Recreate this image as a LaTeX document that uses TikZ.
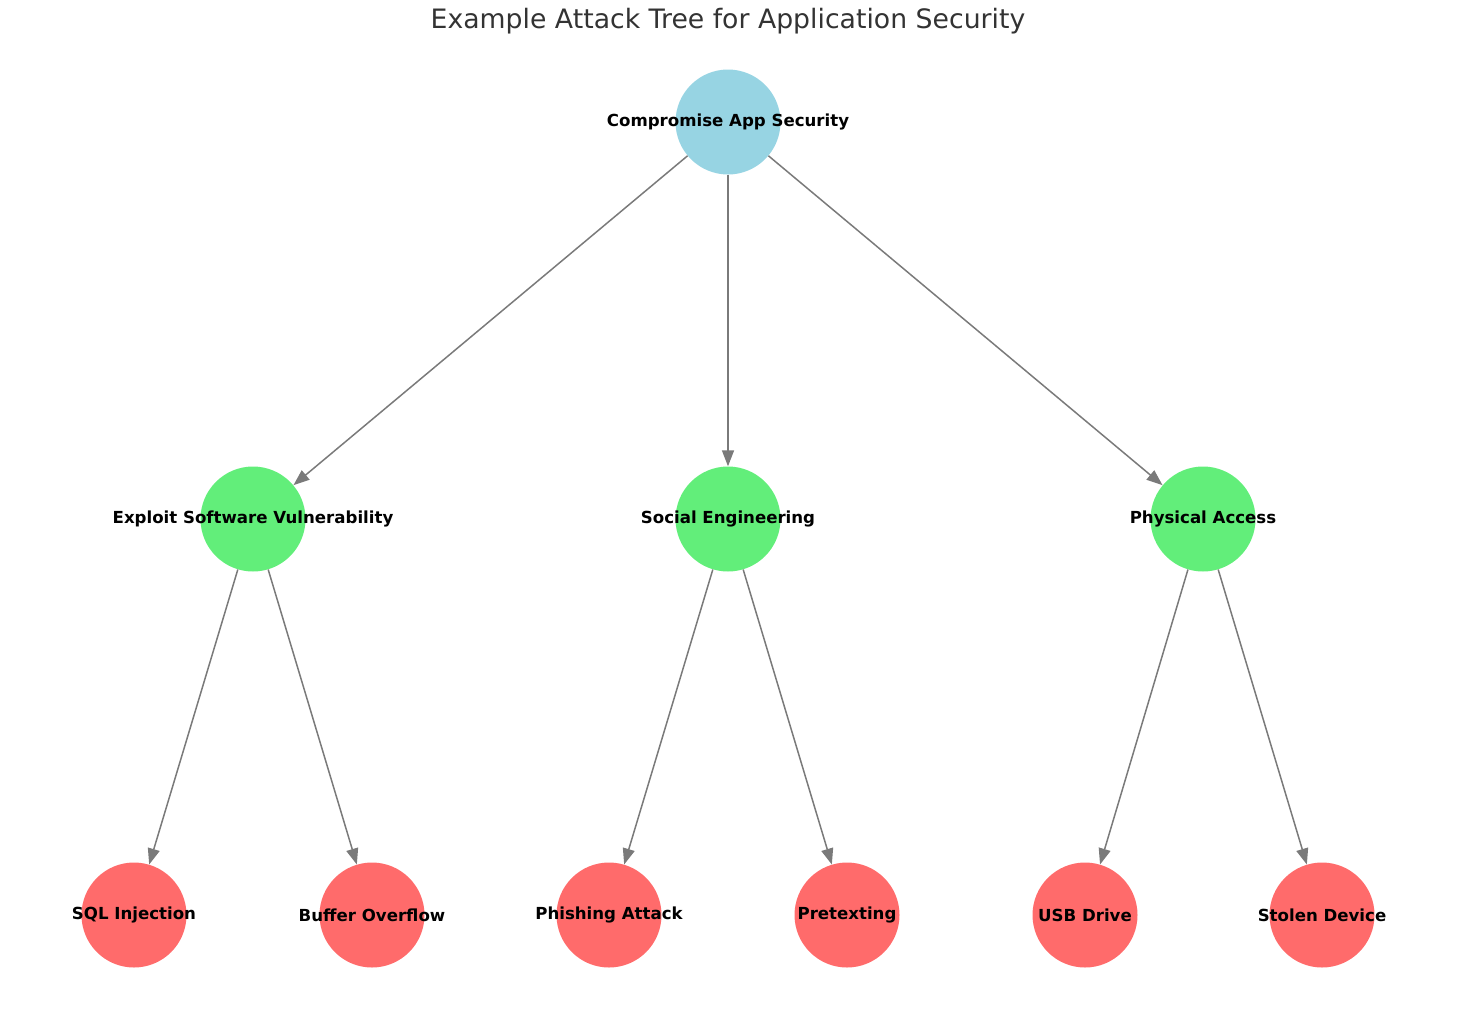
\documentclass[tikz,border=0pt]{standalone}
\usepackage{fontspec}
\setmainfont{DejaVu Sans}
\usetikzlibrary{arrows.meta}
\definecolor{rootc}{HTML}{97D4E3}
\definecolor{midc}{HTML}{62EE7A}
\definecolor{leafc}{HTML}{FF6B6B}
\definecolor{edgec}{HTML}{7A7A7A}
\begin{document}
\begin{tikzpicture}[x=1pt,y=-1pt,
  n/.style={circle,minimum size=105pt,inner sep=0pt},
  lab/.style={font=\bfseries\fontsize{16.6}{19}\selectfont},
  e/.style={draw=edgec,line width=1.5pt,-{Triangle[length=16pt,width=12pt]}}]
\useasboundingbox (0,0) rectangle (1458,1009);
\node at (728,21) {\color[HTML]{333333}\fontsize{26.7}{30}\selectfont Example Attack Tree for Application Security};
\node[n,fill=rootc] (r) at (728,122) {};
\node[n,fill=midc] (a) at (253,519) {};
\node[n,fill=midc] (b) at (728,519) {};
\node[n,fill=midc] (c) at (1203,519) {};
\node[n,fill=leafc] (a1) at (134,915) {};
\node[n,fill=leafc] (a2) at (372,915) {};
\node[n,fill=leafc] (b1) at (609,915) {};
\node[n,fill=leafc] (b2) at (847,915) {};
\node[n,fill=leafc] (c1) at (1085,915) {};
\node[n,fill=leafc] (c2) at (1322,915) {};
\foreach \s/\t in {r/a,r/b,r/c,a/a1,a/a2,b/b1,b/b2,c/c1,c/c2} \draw[e] (\s) -- (\t);
\node[lab] at (r) {Compromise App Security};
\node[lab] at (a) {Exploit Software Vulnerability};
\node[lab] at (b) {Social Engineering};
\node[lab] at (c) {Physical Access};
\node[lab] at (a1) {SQL Injection};
\node[lab] at (a2) {Buffer Overflow};
\node[lab] at (b1) {Phishing Attack};
\node[lab] at (b2) {Pretexting};
\node[lab] at (c1) {USB Drive};
\node[lab] at (c2) {Stolen Device};
\end{tikzpicture}
\end{document}
